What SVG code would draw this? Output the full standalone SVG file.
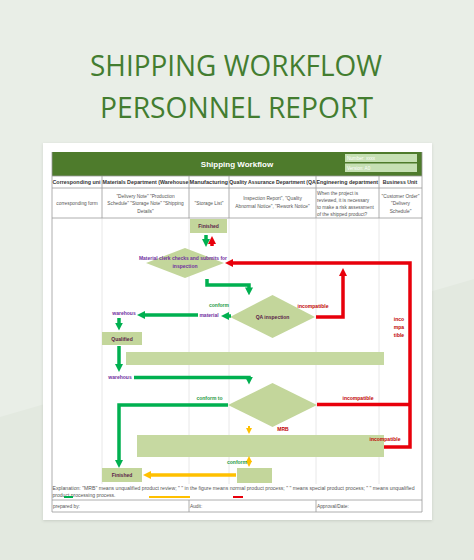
<svg xmlns="http://www.w3.org/2000/svg" width="474" height="560" viewBox="0 0 474 560">
<defs>
<style>
.hd{font-family:"Liberation Sans",Arial,sans-serif;font-weight:bold;font-size:5.2px;fill:#333}
.rw{font-family:"Liberation Sans",Arial,sans-serif;font-size:4.8px;fill:#555}
.lb{font-family:"Liberation Sans",Arial,sans-serif;font-weight:bold;font-size:5px}
.pu{fill:#7030a0}
.dk{fill:#5a2148}
.gr{fill:#1f9a45}
.rd{fill:#c00000}
.node{fill:#c3d69b}
.bar{fill:#c6d9a1}
.g{fill:none;stroke:#00b050;stroke-width:3.5}
.r{fill:none;stroke:#e8000b;stroke-width:3.5}
.y{fill:none;stroke:#ffc000;stroke-width:3.5}
.ys{fill:none;stroke:#ffc000;stroke-width:2}
.grid{stroke:#9a9a9a;stroke-width:0.8}
.lgrid{stroke:#e2e2e2;stroke-width:0.8}
.title{font-family:"Open Sans","Noto Sans",sans-serif;font-size:29px;fill:#437d30}
</style>
<marker id="ag" viewBox="0 0 10 10" refX="3" refY="5" markerWidth="8" markerHeight="8" orient="auto" markerUnits="userSpaceOnUse"><path d="M0,0 L10,5 L0,10 z" fill="#00b050"/></marker>
<marker id="ar" viewBox="0 0 10 10" refX="3" refY="5" markerWidth="8" markerHeight="8" orient="auto" markerUnits="userSpaceOnUse"><path d="M0,0 L10,5 L0,10 z" fill="#e8000b"/></marker>
<marker id="ay" viewBox="0 0 10 10" refX="3" refY="5" markerWidth="8" markerHeight="8" orient="auto" markerUnits="userSpaceOnUse"><path d="M0,0 L10,5 L0,10 z" fill="#ffc000"/></marker>
<marker id="ays" viewBox="0 0 10 10" refX="3" refY="5" markerWidth="6" markerHeight="6" orient="auto-start-reverse" markerUnits="userSpaceOnUse"><path d="M0,0 L10,5 L0,10 z" fill="#ffc000"/></marker>
<filter id="sh" x="-5%" y="-5%" width="110%" height="110%"><feDropShadow dx="0" dy="1" stdDeviation="1.5" flood-color="#000" flood-opacity="0.12"/></filter>
</defs>

<rect x="0" y="0" width="474" height="560" fill="#e9eee7"/>
<polygon points="474,279 474,560 0,560 0,417" fill="#e3e9e0"/>

<text class="title" x="90" y="76" textLength="292" lengthAdjust="spacingAndGlyphs">SHIPPING WORKFLOW</text>
<text class="title" x="100" y="118" textLength="273" lengthAdjust="spacingAndGlyphs">PERSONNEL REPORT</text>

<rect x="43" y="143" width="389" height="377" fill="#ffffff" filter="url(#sh)"/>

<g id="table">
<rect x="52" y="152" width="370" height="24" fill="#4e7b2c"/>
<text x="237" y="167" text-anchor="middle" font-family="'Liberation Sans',Arial,sans-serif" font-weight="bold" font-size="8" fill="#ffffff">Shipping Workflow</text>
<rect x="345" y="154" width="72" height="8" fill="#c6e0b4"/>
<rect x="345" y="163.5" width="72" height="8.5" fill="#c6e0b4"/>
<text x="347" y="160" font-family="'Liberation Sans',Arial,sans-serif" font-size="4.6" fill="#ffffff">Number: xxxx</text>
<text x="347" y="169.8" font-family="'Liberation Sans',Arial,sans-serif" font-size="4.6" fill="#ffffff">Version: A0</text>

<g class="lgrid">
<line x1="102" y1="218" x2="102" y2="484"/>
<line x1="189" y1="218" x2="189" y2="484"/>
<line x1="229" y1="218" x2="229" y2="484"/>
<line x1="316" y1="218" x2="316" y2="484"/>
<line x1="379" y1="218" x2="379" y2="484"/>
</g>
<g class="grid">
<line x1="52" y1="176" x2="422" y2="176"/>
<line x1="52" y1="188" x2="422" y2="188"/>
<line x1="52" y1="218" x2="422" y2="218"/>
<line x1="52" y1="500" x2="422" y2="500"/>
<line x1="52" y1="512" x2="422" y2="512"/>
<line x1="52" y1="152" x2="52" y2="512"/>
<line x1="422" y1="152" x2="422" y2="512"/>
<line x1="102" y1="176" x2="102" y2="218"/>
<line x1="189" y1="176" x2="189" y2="218"/>
<line x1="229" y1="176" x2="229" y2="218"/>
<line x1="316" y1="176" x2="316" y2="218"/>
<line x1="379" y1="176" x2="379" y2="218"/>
<line x1="189" y1="500" x2="189" y2="512"/>
<line x1="316" y1="500" x2="316" y2="512"/>
</g>

<text class="hd" x="52.5" y="184" textLength="48" lengthAdjust="spacingAndGlyphs">Corresponding uni</text>
<text class="hd" x="102.5" y="184" textLength="86" lengthAdjust="spacingAndGlyphs">Materials Department (Warehouse</text>
<text class="hd" x="189.5" y="184" textLength="38.5" lengthAdjust="spacingAndGlyphs">Manufacturing</text>
<text class="hd" x="229.3" y="184" textLength="86.5" lengthAdjust="spacingAndGlyphs">Quality Assurance Department (QA</text>
<text class="hd" x="316.5" y="184" textLength="61.5" lengthAdjust="spacingAndGlyphs">Engineering department</text>
<text class="hd" x="400" y="184" text-anchor="middle">Business Unit</text>

<text class="rw" x="77" y="205" text-anchor="middle">corresponding form</text>
<text class="rw" x="145.5" y="197.5" text-anchor="middle">"Delivery Note" "Production</text>
<text class="rw" x="145.5" y="205" text-anchor="middle">Schedule" "Storage Note" "Shipping</text>
<text class="rw" x="145.5" y="212.5" text-anchor="middle">Details"</text>
<text class="rw" x="209" y="205" text-anchor="middle">"Storage List"</text>
<text class="rw" x="272.5" y="199.5" text-anchor="middle">Inspection Report", "Quality</text>
<text class="rw" x="272.5" y="207.5" text-anchor="middle">Abnormal Notice", "Rework Notice"</text>
<text class="rw" x="317" y="194.5">When the project is</text>
<text class="rw" x="317" y="201.5">reviewed, it is necessary</text>
<text class="rw" x="317" y="208.5">to make a risk assessment</text>
<text class="rw" x="317" y="215.5">of the shipped product?</text>
<text class="rw" x="400.5" y="197.5" text-anchor="middle">"Customer Order"</text>
<text class="rw" x="400.5" y="205" text-anchor="middle">"Delivery</text>
<text class="rw" x="400.5" y="212.5" text-anchor="middle">Schedule"</text>

<text class="rw" x="52.5" y="489.5" textLength="362" lengthAdjust="spacingAndGlyphs">Explanation: "MRB" means unqualified product review; " " in the figure means normal product process; " " means special product process; " " means unqualified</text>
<text class="rw" x="52.5" y="496.5" textLength="63" lengthAdjust="spacingAndGlyphs">product processing process.</text>
<line x1="64" y1="497" x2="73" y2="497" stroke="#00b050" stroke-width="2"/>
<line x1="149" y1="497" x2="190" y2="497" stroke="#ffc000" stroke-width="2"/>
<line x1="233" y1="497" x2="243" y2="497" stroke="#e8000b" stroke-width="2"/>

<text class="rw" x="53" y="508">prepared by:</text>
<text class="rw" x="190" y="508">Audit:</text>
<text class="rw" x="317" y="508">Approval/Date:</text>
</g>

<g id="bar1"><rect class="bar" x="126" y="352" width="258" height="13"/></g>
<g id="bar2"><rect class="bar" x="137" y="435" width="247" height="22"/></g>

<g id="finished-top">
<rect class="node" x="190" y="219" width="37" height="14"/>
<text class="lb dk" x="208.5" y="228" text-anchor="middle">Finished</text>
</g>
<g id="material-check">
<polygon class="node" points="185,248 224,263 185,278 146,263"/>
<text class="lb pu" x="183" y="259.8" text-anchor="middle" textLength="88" lengthAdjust="spacingAndGlyphs">Material clerk checks and submits for</text>
<text class="lb pu" x="185" y="268.3" text-anchor="middle">inspection</text>
</g>
<g id="qa-inspection">
<polygon class="node" points="272.5,295 315,317 272.5,338 230,317"/>
<text class="lb dk" x="272.5" y="319" text-anchor="middle">QA inspection</text>
</g>
<g id="qualified">
<rect class="node" x="102" y="332" width="40" height="13"/>
<text class="lb dk" x="122" y="340.5" text-anchor="middle">Qualified</text>
</g>
<g id="mrb">
<polygon class="node" points="272.5,383 317,405 272.5,427 228,405"/>
</g>
<g id="finished-bottom">
<rect class="node" x="102" y="468" width="40" height="14"/>
<text class="lb dk" x="122" y="477" text-anchor="middle">Finished</text>
</g>
<g id="small-box">
<rect class="node" x="237" y="468" width="35" height="15"/>
</g>

<g id="connectors">
<path class="g" d="M206,235 V241.4" marker-end="url(#ag)"/>
<path class="g" d="M207,279 V285 H249 V289.8" marker-end="url(#ag)"/>
<path class="g" d="M231,316 H226.6" marker-end="url(#ag)"/>
<path class="g" d="M198,315 H142.6" marker-end="url(#ag)"/>
<path class="g" d="M119,318 V325" marker-end="url(#ag)"/>
<path class="g" d="M119,346 V366.4" marker-end="url(#ag)"/>
<path class="g" d="M134,377.5 H249 V379" marker-end="url(#ag)"/>
<path class="g" d="M228,405 H119 V462.4" marker-end="url(#ag)"/>
<path class="r" d="M212,246 V241.6" marker-end="url(#ar)"/>
<path class="r" d="M384,447 H410 V263 H230.6" marker-end="url(#ar)"/>
<path class="r" d="M317,404.5 H410"/>
<path class="r" d="M316,317 H343 V273.6" marker-end="url(#ar)"/>
<path class="ys" d="M249,426 V429.8" marker-end="url(#ays)"/>
<path class="ys" d="M249,460.2 V462.8" marker-start="url(#ays)" marker-end="url(#ays)"/>
<path class="y" d="M236,475 H148.6" marker-end="url(#ay)"/>
</g>

<g id="labels">
<text class="lb gr" x="219" y="306.5" text-anchor="middle">conform</text>
<text class="lb pu" x="209" y="317" text-anchor="middle">material</text>
<text class="lb pu" x="124" y="315" text-anchor="middle">warehous</text>
<text class="lb pu" x="120" y="379" text-anchor="middle">warehous</text>
<text class="lb gr" x="209.5" y="400" text-anchor="middle">conform to</text>
<text class="lb rd" x="313" y="308" text-anchor="middle">incompatible</text>
<text class="lb rd" x="399" y="321" text-anchor="middle">inco</text>
<text class="lb rd" x="399" y="329" text-anchor="middle">mpa</text>
<text class="lb rd" x="399" y="337" text-anchor="middle">tible</text>
<text class="lb rd" x="358" y="400" text-anchor="middle">incompatible</text>
<text class="lb rd" x="283" y="431" text-anchor="middle">MRB</text>
<text class="lb rd" x="385" y="441" text-anchor="middle">incompatible</text>
<text class="lb gr" x="237" y="464" text-anchor="middle">conform</text>
</g>
</svg>
